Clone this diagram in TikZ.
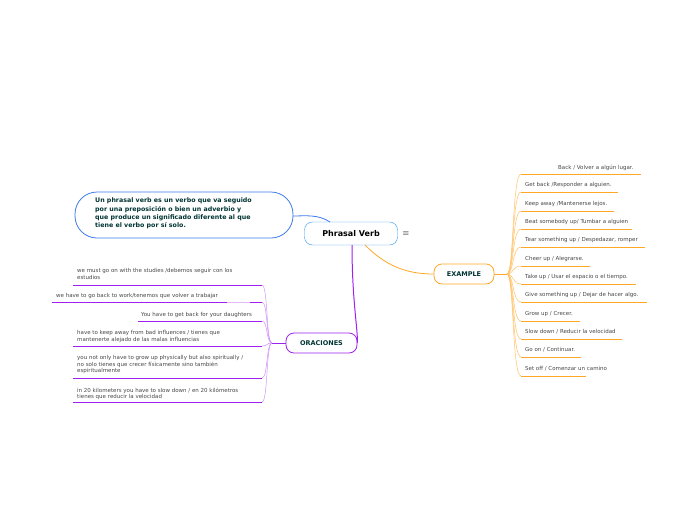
\documentclass[tikz,border=0pt]{standalone}
\usepackage{fontspec}
\setmainfont{DejaVu Sans}
\begin{document}
\begin{tikzpicture}[x=1pt,y=-1pt,
  it/.style={anchor=north west,font=\fontsize{5.5}{6.8}\selectfont,text=black!72,inner sep=0pt,align=left},
  lab/.style={font=\bfseries\fontsize{6.5}{7}\selectfont,text=teal!40!black}]
\definecolor{pur}{HTML}{A020F0}
\definecolor{org}{HTML}{FFA726}
\definecolor{blu}{HTML}{3D7BE8}
\useasboundingbox (0,0) rectangle (697,520);
% central
\node[draw=blu!80!cyan,rounded corners=8pt,minimum width=93pt,minimum height=23pt,font=\bfseries\fontsize{8}{9}\selectfont,inner sep=0pt] (pv) at (351,233.5) {Phrasal Verb};
\node[font=\fontsize{8}{9}\selectfont] (menu) at (406,234) {$\equiv$};
\node[draw=blu,line width=0.8pt,rounded corners=22pt,minimum width=218pt,minimum height=46pt,inner sep=0pt] (def) at (184,215) {};
\node[anchor=north west,lab,align=left,font=\bfseries\fontsize{6.3}{8.2}\selectfont,inner sep=0pt] (deft) at (95,198) {Un phrasal verb es un verbo que va seguido\\por una preposición o bien un adverbio y\\que produce un significado diferente al que\\tiene el verbo por sí solo.};
\node[draw=org,line width=0.8pt,rounded corners=8pt,minimum width=60pt,minimum height=20pt,inner sep=0pt,lab] (ex) at (464,274) {EXAMPLE};
\node[draw=pur,line width=0.8pt,rounded corners=8pt,minimum width=71pt,minimum height=20pt,inner sep=0pt,lab] (or) at (321.5,343) {ORACIONES};
\draw[blu,line width=0.8pt] (330,222) .. controls (318,214) and (305,216) .. (293,216);
\draw[org,line width=0.8pt] (365,245) .. controls (385,265) and (405,274) .. (ex.west);
\draw[pur,line width=1pt] (352,245) .. controls (352,300) and (358,330) .. (or.east);
% example items
\coordinate (eh) at (507,274);
\draw[org,line width=0.8pt] (ex.east) -- (eh);
\foreach \y/\x/\e/\t in {
 167/558/641/{Back / Volver a algún lugar.},
 185/525/618/{Get back /Responder a alguien.},
 204/525/614/{Keep away /Mantenerse lejos.},
 222/525/632/{Beat somebody up/ Tumbar a alguien},
 240/525/645/{Tear something up / Despedazar, romper},
 259/525/590/{Cheer up / Alegrarse.},
 277/525/636/{Take up / Usar el espacio o el tiempo.},
 295/525/647/{Give something up / Dejar de hacer algo.},
 314/525/580/{Grow up / Crecer.},
 332/525/622/{Slow down / Reducir la velocidad},
 350/525/581/{Go on / Continuar.},
 369/525/586/{Set off / Comenzar un camino}}{
  \node[it] (t\y) at (\x,\y-2.5) {\t};
  \coordinate (s\y) at (521,\y+7);
  \coordinate (f\y) at (\e,\y+7);
  \draw[org!70,line width=0.5pt] (eh) .. controls (514,274) and (512,\y+7) .. (s\y);
  \draw[org,line width=0.8pt] (s\y) -- (f\y);
}
% oraciones items
\coordinate (oh) at (272,343);
\draw[pur,line width=0.8pt] (or.west) -- (oh);
\foreach \y/\s in {285/73,302/52,321/138,346/73,378/73,402/73}{
  \coordinate (a\y) at (\s,\y);
  \coordinate (b\y) at (262,\y);
  \draw[pur!50,line width=0.5pt] (oh) .. controls (266,343) and (268,\y) .. (b\y);
  \draw[pur,line width=0.8pt] (a\y) -- (b\y);
}
\draw[pur!30,line width=0.8pt] (227,302) -- (250,302);
\node[it] (o1) at (77,268) {we must go on with the studies /debemos seguir con los\\estudios};
\node[it] (o2) at (56,293) {we have to go back to work/tenemos que volver a trabajar};
\node[it] (o3) at (141,312) {You have to get back for your daughters};
\node[it] (o4) at (77,330) {have to keep away from bad influences / tienes que\\mantenerte alejado de las malas influencias};
\node[it] (o5) at (77,355) {you not only have to grow up physically but also spiritually /\\no solo tienes que crecer físicamente sino también\\espiritualmente};
\node[it] (o6) at (77,387.5) {in 20 kilometers you have to slow down / en 20 kilómetros\\tienes que reducir la velocidad};
\end{tikzpicture}
\end{document}
